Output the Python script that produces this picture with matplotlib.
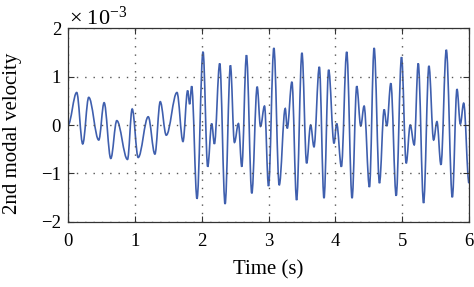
import matplotlib
matplotlib.use("Agg")
import matplotlib.pyplot as plt
import numpy as np
from matplotlib.path import Path
from matplotlib.patches import PathPatch

# extrema of the 2nd modal velocity (x 1e-3)
t = [0.00, 0.13, 0.22, 0.31, 0.46, 0.54, 0.64, 0.73, 0.89, 0.96, 1.05, 1.20,
     1.30, 1.38, 1.47, 1.63, 1.72, 1.79, 1.82, 1.85, 1.93, 2.02, 2.09, 2.15,
     2.19, 2.27, 2.35, 2.43, 2.49, 2.55, 2.60, 2.67, 2.75, 2.83, 2.88, 2.94,
     3.00, 3.08, 3.16, 3.25, 3.28, 3.35, 3.42, 3.50, 3.57, 3.63, 3.68, 3.76,
     3.83, 3.90, 3.98, 4.02, 4.09, 4.17, 4.25, 4.32, 4.38, 4.43, 4.51, 4.58,
     4.66, 4.73, 4.77, 4.83, 4.91, 4.99, 5.06, 5.12, 5.18, 5.24, 5.32, 5.40,
     5.47, 5.52, 5.58, 5.66, 5.75, 5.82, 5.87, 5.92, 6.00]
v = [0.00, 0.67, -0.39, 0.57, -0.31, 0.46, -0.69, 0.09, -0.71, 0.33, -0.67, 0.17,
     -0.60, 0.48, -0.21, 0.67, -0.34, 0.71, 0.43, 0.80, -1.52, 1.51, -0.86, 0.03,
     -0.39, 1.27, -1.63, 1.23, -0.36, 0.03, -0.86, 1.44, -1.41, 0.79, -0.03, 0.39,
     -1.26, 1.59, -1.24, 0.34, -0.07, 0.89, -1.55, 1.49, -0.79, 0.00, -0.45, 1.20,
     -1.51, 1.14, -0.38, 0.03, -0.86, 1.51, -1.51, 0.80, -0.02, 0.39, -1.28, 1.59,
     -1.20, 0.32, -0.02, 0.86, -1.46, 1.40, -0.79, 0.00, -0.41, 1.27, -1.61, 1.22,
     -0.31, 0.07, -0.82, 1.55, -1.49, 0.74, 0.02, 0.45, -1.20]

x_ticks = [0, 1, 2, 3, 4, 5, 6]
y_ticks = [-2, -1, 0, 1, 2]

plt.rcParams["font.family"] = ["Liberation Serif", "DejaVu Serif"]
plt.rcParams["mathtext.fontset"] = "custom"
plt.rcParams["mathtext.rm"] = "Liberation Serif"
plt.rcParams["mathtext.it"] = "Liberation Serif:italic"

fig = plt.figure(figsize=(4.74, 2.87), dpi=100)
ax = fig.add_axes([0.1435, 0.2265, 0.846, 0.6759])

# smooth line: each segment between two extrema drawn as a cubic bezier
# with flat tangents at the extrema
tt = np.array(t)
vv = np.array(v)
verts = [(tt[0], vv[0])]
codes = [Path.MOVETO]
for i in range(len(tt) - 1):
    d = tt[i + 1] - tt[i]
    verts += [(tt[i] + d * 0.36, vv[i]), (tt[i + 1] - d * 0.36, vv[i + 1]),
              (tt[i + 1], vv[i + 1])]
    codes += [Path.CURVE4] * 3
ax.add_patch(PathPatch(Path(verts, codes), fill=False,
                       edgecolor="#3f5fae", lw=1.2))

ax.set_xlim(0, 6)
ax.set_ylim(-2, 2)
ax.set_xticks(x_ticks)
ax.set_yticks(y_ticks)
ax.set_yticklabels(["\u22122", "\u22121", "0", "1", "2"])
ax.text(0.003, 1.016, r"$\times\ 10^{-3}$", transform=ax.transAxes,
        fontsize=16, ha="left", va="baseline")

ax.grid(True, linestyle=(0, (1, 5)), color="#555555", linewidth=1.0)
ax.tick_params(direction="in", labelsize=13.5, length=4, top=True, right=True,
               color="#333333")
ax.tick_params(axis="x", pad=8)
ax.tick_params(axis="y", pad=5)
for s in ax.spines.values():
    s.set_color("#333333")
    s.set_linewidth(0.9)

ax.set_xlabel("Time (s)", fontsize=15, labelpad=7)
ax.set_ylabel("2nd modal velocity", fontsize=15)
ax.yaxis.set_label_coords(-0.115, 0.455)

fig.savefig("out.png", dpi=100)
